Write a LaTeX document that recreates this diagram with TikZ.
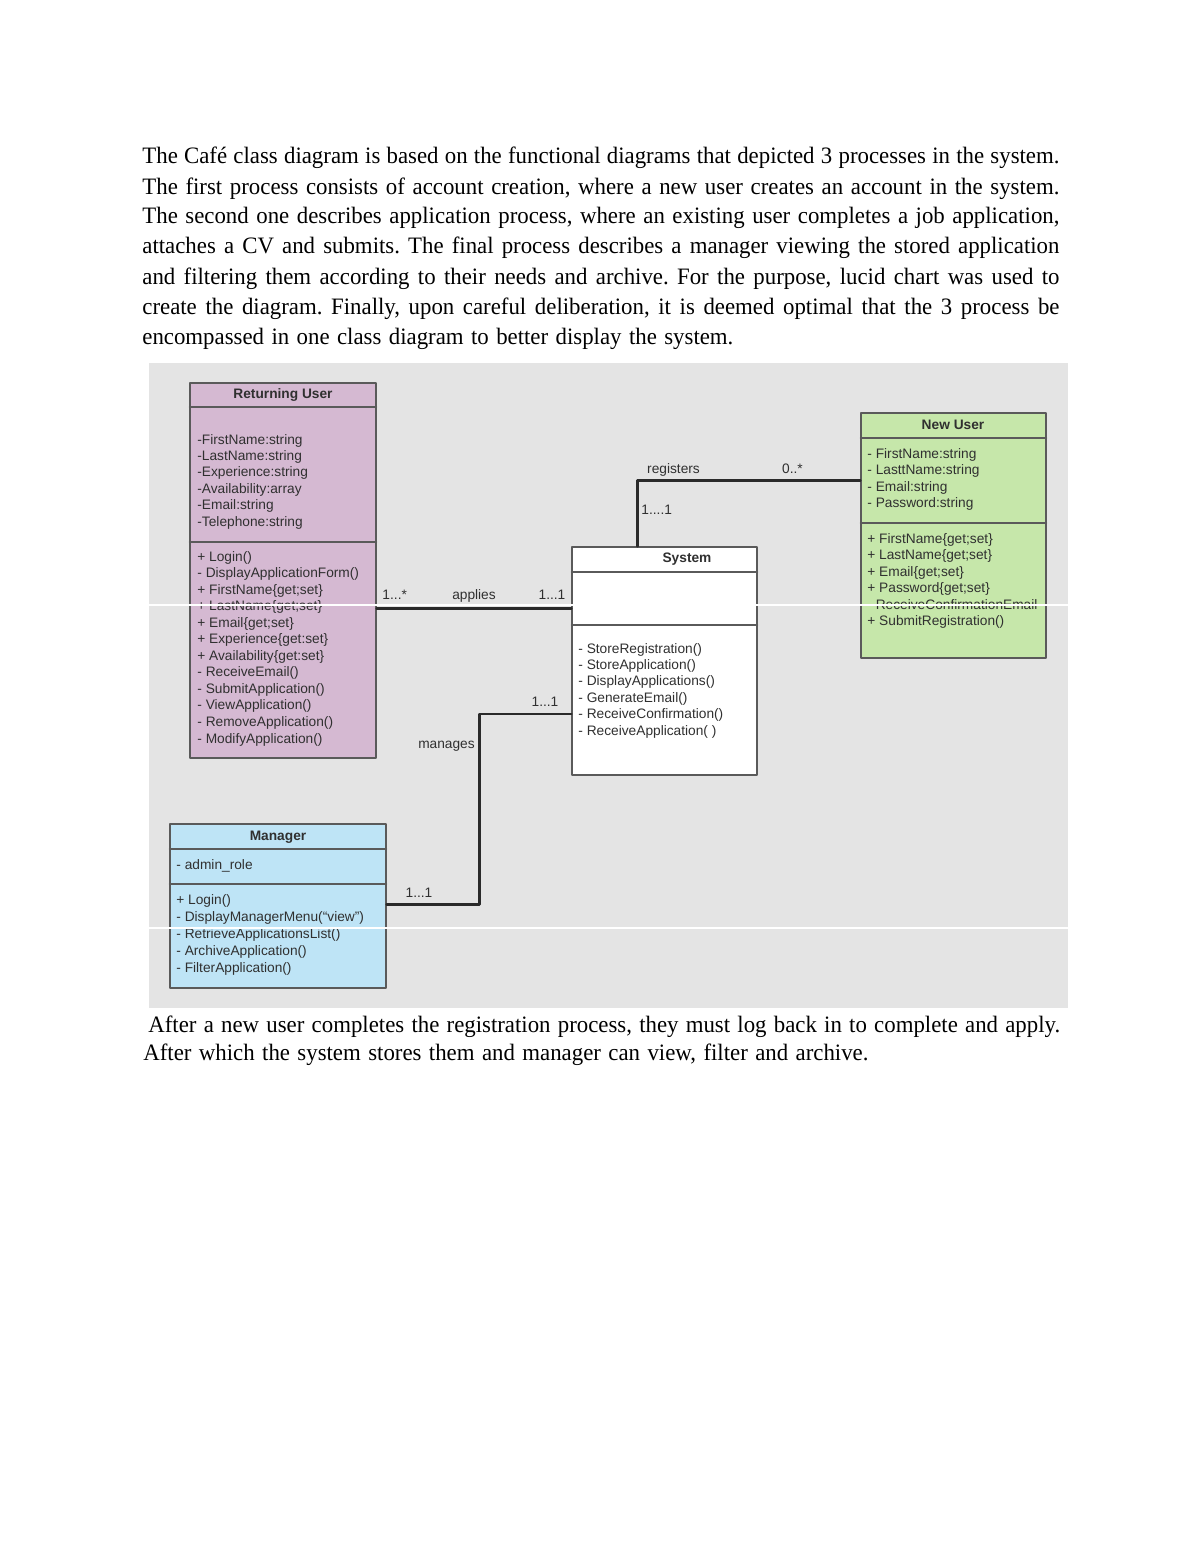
\documentclass[tikz,border=0pt]{standalone}
\usepackage{fontspec}
\usepackage{tikz}
\usetikzlibrary{positioning}
\newfontfamily\umlfont{Liberation Sans}
\newfontfamily\bodyfont[FakeStretch=0.97]{Liberation Serif}
\definecolor{diagbg}{HTML}{E4E4E4}
\definecolor{retfill}{HTML}{D5B9D2}
\definecolor{newfill}{HTML}{C6E7AA}
\definecolor{manfill}{HTML}{BEE4F6}
\definecolor{umlline}{HTML}{5A5A5A}
\definecolor{umltext}{HTML}{303030}
\definecolor{umlconn}{HTML}{2A2A2A}
\frenchspacing
\tikzset{
  classbox/.style={draw=umlline,line width=0.6pt,inner sep=0pt},
  divider/.style={draw=umlline,line width=0.6pt},
  classname/.style={font=\umlfont\bfseries\fontsize{7}{8.4}\selectfont,text=umltext,inner sep=0pt,anchor=base},
  member/.style={font=\umlfont\fontsize{7}{8.4}\selectfont,text=umltext,inner sep=0pt,anchor=base west},
  mult/.style={font=\umlfont\fontsize{7}{8.4}\selectfont,text=umltext,inner sep=0pt,anchor=base},
  assoc/.style={draw=umlconn,line width=1.25pt},
  bodyline/.style={font=\bodyfont\fontsize{12}{15}\selectfont\frenchspacing,text=black,inner sep=0pt,anchor=base west},
  scanline/.style={draw=white,line width=1pt}
}
\begin{document}
\begin{tikzpicture}[line cap=round,line join=round,x=0.51pt,y=-0.51pt]
\useasboundingbox (0,0) rectangle (1200,1553);
\fill [white] (0,0) rectangle (1200,1553);
% text above the diagram
\node[bodyline] (p1) at (142,164) {\makebox[467.7pt][s]{The Café class diagram is based on the functional diagrams that depicted 3 processes in the system.}};
\node[bodyline] (p2) at (142,194) {\makebox[467.7pt][s]{The first process consists of account creation, where a new user creates an account in the system.}};
\node[bodyline] (p3) at (142,224) {\makebox[467.7pt][s]{The second one describes application process, where an existing user completes a job application,}};
\node[bodyline] (p4) at (142,254) {\makebox[467.7pt][s]{attaches a CV and submits. The final process describes a manager viewing the stored application}};
\node[bodyline] (p5) at (142,284) {\makebox[467.7pt][s]{and filtering them according to their needs and archive. For the purpose, lucid chart was used to}};
\node[bodyline] (p6) at (142,314) {\makebox[467.7pt][s]{create the diagram. Finally, upon careful deliberation, it is deemed optimal that the 3 process be}};
\node[bodyline] (p7) at (142,344) {\makebox[301.4pt][s]{encompassed in one class diagram to better display the system.}};
% diagram canvas
\node[fill=diagbg,inner sep=0pt,minimum width=468.2pt,minimum height=329pt] (canvas) at (608.5,685.5) {};
% classes
\node[classbox,fill=retfill,minimum width=94.86pt,minimum height=191.25pt] (ret) at (283,570.5) {};
\node[classbox,fill=white,minimum width=94.35pt,minimum height=116.28pt] (sys) at (664.5,661) {};
\node[classbox,fill=newfill,minimum width=94.35pt,minimum height=124.95pt] (new) at (953.5,535.5) {};
\node[classbox,fill=manfill,minimum width=110.16pt,minimum height=83.64pt] (man) at (278,906) {};
\draw [divider] (ret.west |- 0,407) -- (ret.east |- 0,407);
\draw [divider] (ret.west |- 0,542) -- (ret.east |- 0,542);
\draw [divider] (sys.west |- 0,572) -- (sys.east |- 0,572);
\draw [divider] (sys.west |- 0,625) -- (sys.east |- 0,625);
\draw [divider] (new.west |- 0,438) -- (new.east |- 0,438);
\draw [divider] (new.west |- 0,523) -- (new.east |- 0,523);
\draw [divider] (man.west |- 0,849) -- (man.east |- 0,849);
\draw [divider] (man.west |- 0,884) -- (man.east |- 0,884);
\node[classname] (ret-name) at (283,398) {Returning User};
\node[classname] (sys-name) at (687,562) {System};
\node[classname] (new-name) at (953,429) {New User};
\node[classname] (man-name) at (278,840) {Manager};
\foreach \m [count=\i from 0] in {-FirstName:string,-LastName:string,-Experience:string,-Availability:array,-Email:string,-Telephone:string}
  \node[member] (ret-a\i) at (197,444+16.45*\i) {\m};
\foreach \m [count=\i from 0] in {+ Login(),- DisplayApplicationForm(),+ FirstName\{get;set\},+ LastName\{get;set\},+ Email\{get;set\},+ Experience\{get:set\},+ Availability\{get:set\},- ReceiveEmail(),- SubmitApplication(),- ViewApplication(),- RemoveApplication(),- ModifyApplication()}
  \node[member] (ret-m\i) at (197,561+16.55*\i) {\m};
\foreach \m [count=\i from 0] in {- StoreRegistration(),- StoreApplication(),- DisplayApplications(),- GenerateEmail(),- ReceiveConfirmation(),- ReceiveApplication( )}
  \node[member] (sys-m\i) at (578,653+16.45*\i) {\m};
\foreach \m [count=\i from 0] in {- FirstName:string,- LasttName:string,- Email:string,- Password:string}
  \node[member] (new-a\i) at (867,458+16.5*\i) {\m};
\foreach \m [count=\i from 0] in {+ FirstName\{get;set\},+ LastName\{get;set\},+ Email\{get;set\},+ Password\{get;set\},- ReceiveConfirmationEmail,+ SubmitRegistration()}
  \node[member] (new-m\i) at (867,543+16.55*\i) {\m};
\node[member] (man-a0) at (176,869) {- admin\_role};
\foreach \m [count=\i from 0] in {+ Login(),- DisplayManagerMenu(“view”),- RetrieveApplicationsList(),- ArchiveApplication(),- FilterApplication()}
  \node[member] (man-m\i) at (176,904+17*\i) {\m};
% associations
\coordinate (regbend) at (637.5,480.5);
\coordinate (appy) at (0,608.3);
\coordinate (mgrbend) at (479.3,714);
\coordinate (mgrlow) at (479.3,904.5);
\draw [assoc] (sys.north -| regbend) -- (regbend) -- (new.west |- regbend);
\draw [assoc] (ret.east |- appy) -- (sys.west |- appy);
\draw [assoc] (man.east |- mgrlow) -- (mgrlow) -- (mgrbend) -- (sys.west |- mgrbend);
\node[mult] (reg-lbl) at (673.5,473.5) {registers};
\node[mult] (reg-new) at (792.5,473.5) {0..*};
\node[mult] (reg-sys) at (656.7,514.5) {1....1};
\node[mult] (app-ret) at (394.7,599.5) {1...*};
\node[mult] (app-lbl) at (474,599.5) {applies};
\node[mult] (app-sys) at (552,599.5) {1...1};
\node[mult] (mgr-sys) at (545,706.5) {1...1};
\node[mult] (mgr-lbl) at (446.5,748.5) {manages};
\node[mult] (mgr-man) at (419,897.5) {1...1};
% scan streaks across the picture
\draw [scanline] (canvas.west |- 0,604.7) -- (canvas.east |- 0,604.7);
\draw [scanline] (canvas.west |- 0,928.3) -- (canvas.east |- 0,928.3);
% text below the diagram
\node[bodyline] (q1) at (148,1032) {\makebox[465pt][s]{After a new user completes the registration process, they must log back in to complete and apply.}};
\node[bodyline] (q2) at (143,1060) {\makebox[369.8pt][s]{After which the system stores them and manager can view, filter and archive.}};
\end{tikzpicture}
\end{document}
